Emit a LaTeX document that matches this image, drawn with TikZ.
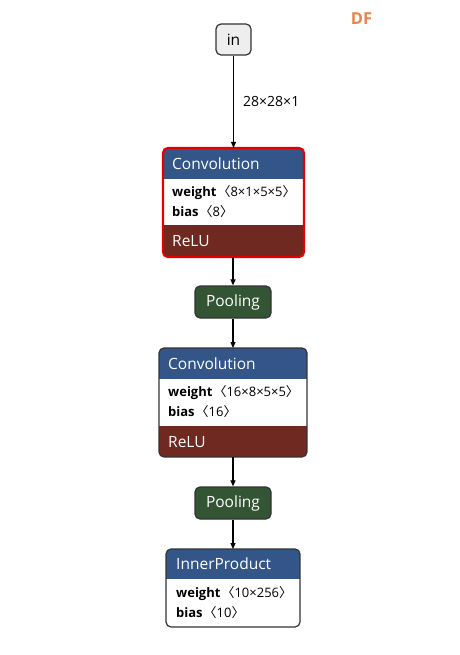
\documentclass[tikz,border=0pt]{standalone}
\usepackage{fontspec}
\setmainfont{Open Sans}
\newfontfamily\cjkfont{Noto Sans CJK SC}
\usepackage{xcolor}
\usetikzlibrary{arrows.meta,positioning,calc}

\definecolor{layerblue}{RGB}{51,85,136}
\definecolor{actred}{RGB}{112,41,33}
\definecolor{poolgreen}{RGB}{51,85,51}
\definecolor{inputgray}{RGB}{238,238,238}
\definecolor{wmorange}{RGB}{232,131,79}
\newcommand{\shp}[1]{\hspace{1pt}{\cjkfont 〈}#1{\cjkfont 〉}}

\begin{document}
\begin{tikzpicture}[x=1pt, y=-1pt,
    frame/.style={inner sep=0pt, outer sep=0pt},
    box/.style={draw=black!80, line width=1.2pt, rounded corners=5pt},
    sel/.style={draw=red!90!black, line width=2.2pt, rounded corners=5pt},
    pool/.style={box, fill=poolgreen, text=white, minimum width=76pt, minimum height=32pt, inner sep=0pt, font=\fontsize{15.5}{17}\selectfont},
    inp/.style={box, fill=inputgray, minimum width=35pt, minimum height=31pt, inner sep=0pt, font=\fontsize{15.5}{17}\selectfont},
    hdr/.style={text=white, anchor=west, inner sep=0pt, font=\fontsize{15.5}{17}\selectfont},
    attr/.style={anchor=west, inner sep=0pt, font=\fontsize{13}{15}\selectfont},
    conn/.style={-{Triangle[length=6pt,width=5pt]}, line width=1.1pt},
    lbl/.style={anchor=west, inner sep=0pt, font=\fontsize{14}{16}\selectfont}
]
\useasboundingbox (0,0) rectangle (459,655);

% --- Input ---
\node[inp] (in) at (233.5,39.5) {in};

% --- Layer frames ---
\node[frame, minimum width=141pt, minimum height=109pt] (conv1) at (233.5,202.5) {};
\node[frame, minimum width=148pt, minimum height=109pt] (conv2) at (233,402.5) {};
\node[frame, minimum width=134pt, minimum height=78pt] (ip) at (233,588) {};

% --- Conv 1 fills ---
\begin{scope}
\clip[rounded corners=5pt] (conv1.north west) rectangle (conv1.south east);
\fill[white] (conv1.north west) rectangle (conv1.south east);
\fill[layerblue] (conv1.north west) rectangle ($(conv1.north east)+(0,31)$);
\fill[actred] ($(conv1.south west)+(0,-32)$) rectangle (conv1.south east);
\end{scope}
\draw[sel] (conv1.north west) rectangle (conv1.south east);

% --- Conv 2 fills ---
\begin{scope}
\clip[rounded corners=5pt] (conv2.north west) rectangle (conv2.south east);
\fill[white] (conv2.north west) rectangle (conv2.south east);
\fill[layerblue] (conv2.north west) rectangle ($(conv2.north east)+(0,31)$);
\fill[actred] ($(conv2.south west)+(0,-31)$) rectangle (conv2.south east);
\end{scope}
\draw[box] (conv2.north west) rectangle (conv2.south east);

% --- InnerProduct fills ---
\begin{scope}
\clip[rounded corners=5pt] (ip.north west) rectangle (ip.south east);
\fill[white] (ip.north west) rectangle (ip.south east);
\fill[layerblue] (ip.north west) rectangle ($(ip.north east)+(0,30)$);
\end{scope}
\draw[box] (ip.north west) rectangle (ip.south east);

% --- Texts ---
\node[hdr] (conv1t) at (172,163.5) {Convolution};
\node[attr] (conv1w) at (172,192.5) {\textbf{weight}\shp{8×1×5×5}};
\node[attr] (conv1b) at (172,211.5) {\textbf{bias}\shp{8}};
\node[hdr] (relu1) at (172,241) {ReLU};

\node[hdr] (conv2t) at (168,364) {Convolution};
\node[attr] (conv2w) at (168,393) {\textbf{weight}\shp{16×8×5×5}};
\node[attr] (conv2b) at (168,411.5) {\textbf{bias}\shp{16}};
\node[hdr] (relu2) at (168,442) {ReLU};

\node[hdr] (ipt) at (176,564) {InnerProduct};
\node[attr] (ipw) at (176,594) {\textbf{weight}\shp{10×256}};
\node[attr] (ipb) at (176,613) {\textbf{bias}\shp{10}};

% --- Pooling ---
\node[pool] (pool1) at (233,302) {Pooling};
\node[pool] (pool2) at (233,503) {Pooling};

% --- Watermark ---
\node[text=wmorange, font=\bfseries\fontsize{16.5}{18}\selectfont] (wm) at (361.5,19) {DF};

% === Connections ===
\draw[conn] (in.south) -- (in.south |- conv1.north);
\node[lbl] (shape) at (243,102) {28×28×1};
\draw[conn] (conv1.south -| pool1.north) -- (pool1.north);
\draw[conn] (pool1.south) -- (pool1.south |- conv2.north);
\draw[conn] (conv2.south -| pool2.north) -- (pool2.north);
\draw[conn] (pool2.south) -- (pool2.south |- ip.north);
\end{tikzpicture}
\end{document}
